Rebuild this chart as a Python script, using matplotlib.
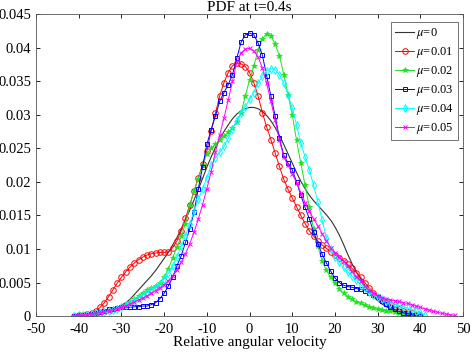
import numpy as np
import matplotlib
matplotlib.use("Agg")
import matplotlib.pyplot as plt
from matplotlib.ticker import FormatStrFormatter

# PDF of relative angular velocity at t=0.4s, one curve per friction coefficient
x_k = np.arange(-41, 41)
y_k = [0.0000, 0.0001, 0.0001, 0.0002, 0.0003, 0.0004, 0.0005, 0.0007, 0.0009, 0.0011,
       0.0013, 0.0016, 0.0020, 0.0025, 0.0032, 0.0039, 0.0046, 0.0053, 0.0060, 0.0068,
       0.0077, 0.0086, 0.0095, 0.0106, 0.0117, 0.0130, 0.0144, 0.0158, 0.0173, 0.0189,
       0.0205, 0.0222, 0.0237, 0.0251, 0.0264, 0.0275, 0.0285, 0.0294, 0.0301, 0.0306,
       0.0309, 0.0311, 0.0311, 0.0309, 0.0305, 0.0299, 0.0291, 0.0281, 0.0269, 0.0256,
       0.0242, 0.0228, 0.0214, 0.0201, 0.0190, 0.0180, 0.0172, 0.0165, 0.0158, 0.0151,
       0.0143, 0.0133, 0.0121, 0.0107, 0.0092, 0.0078, 0.0066, 0.0056, 0.0046, 0.0037,
       0.0029, 0.0023, 0.0018, 0.0014, 0.0011, 0.0008, 0.0006, 0.0004, 0.0003, 0.0002,
       0.0001, 0.0000]

x_r = np.arange(-41, 41)
y_r = [0.0000, 0.0001, 0.0002, 0.0003, 0.0005, 0.0008, 0.0013, 0.0020, 0.0029, 0.0039,
       0.0049, 0.0058, 0.0066, 0.0073, 0.0079, 0.0084, 0.0088, 0.0091, 0.0093, 0.0094,
       0.0095, 0.0095, 0.0096, 0.0102, 0.0112, 0.0127, 0.0146, 0.0166, 0.0186, 0.0206,
       0.0226, 0.0246, 0.0276, 0.0302, 0.0328, 0.0348, 0.0363, 0.0373, 0.0377, 0.0376,
       0.0372, 0.0363, 0.0348, 0.0328, 0.0303, 0.0282, 0.0263, 0.0243, 0.0223, 0.0204,
       0.0189, 0.0176, 0.0163, 0.0150, 0.0138, 0.0127, 0.0119, 0.0112, 0.0106, 0.0101,
       0.0096, 0.0091, 0.0087, 0.0082, 0.0077, 0.0071, 0.0065, 0.0058, 0.0050, 0.0042,
       0.0035, 0.0029, 0.0024, 0.0020, 0.0017, 0.0014, 0.0011, 0.0008, 0.0006, 0.0004,
       0.0002, 0.0001]

x_g = np.arange(-41, 41)
y_g = [0.0000, 0.0001, 0.0001, 0.0002, 0.0003, 0.0004, 0.0005, 0.0006, 0.0008, 0.0010,
       0.0012, 0.0014, 0.0017, 0.0021, 0.0025, 0.0030, 0.0035, 0.0039, 0.0042, 0.0045,
       0.0050, 0.0058, 0.0070, 0.0087, 0.0103, 0.0119, 0.0138, 0.0165, 0.0187, 0.0205,
       0.0225, 0.0242, 0.0250, 0.0256, 0.0262, 0.0268, 0.0274, 0.0280, 0.0290, 0.0302,
       0.0328, 0.0352, 0.0373, 0.0396, 0.0413, 0.0421, 0.0418, 0.0405, 0.0388, 0.0360,
       0.0330, 0.0300, 0.0262, 0.0228, 0.0195, 0.0162, 0.0130, 0.0104, 0.0082, 0.0068,
       0.0058, 0.0049, 0.0041, 0.0034, 0.0029, 0.0025, 0.0021, 0.0019, 0.0016, 0.0014,
       0.0012, 0.0010, 0.0009, 0.0008, 0.0007, 0.0006, 0.0004, 0.0003, 0.0002, 0.0002,
       0.0001, 0.0000]

x_b = np.arange(-41, 41)
y_b = [0.0000, 0.0001, 0.0001, 0.0002, 0.0003, 0.0004, 0.0006, 0.0008, 0.0010, 0.0011,
       0.0012, 0.0013, 0.0013, 0.0013, 0.0014, 0.0014, 0.0015, 0.0015, 0.0017, 0.0020,
       0.0026, 0.0034, 0.0045, 0.0058, 0.0075, 0.0090, 0.0110, 0.0130, 0.0155, 0.0190,
       0.0222, 0.0256, 0.0278, 0.0298, 0.0320, 0.0333, 0.0345, 0.0360, 0.0384, 0.0408,
       0.0419, 0.0422, 0.0419, 0.0407, 0.0389, 0.0358, 0.0328, 0.0298, 0.0265, 0.0240,
       0.0228, 0.0218, 0.0200, 0.0180, 0.0162, 0.0145, 0.0125, 0.0108, 0.0092, 0.0079,
       0.0067, 0.0057, 0.0050, 0.0046, 0.0044, 0.0043, 0.0041, 0.0040, 0.0038, 0.0035,
       0.0032, 0.0028, 0.0023, 0.0018, 0.0014, 0.0010, 0.0007, 0.0005, 0.0004, 0.0002,
       0.0001, 0.0000]

x_c = np.arange(-41, 42)
y_c = [0.0000, 0.0001, 0.0001, 0.0002, 0.0003, 0.0004, 0.0005, 0.0006, 0.0007, 0.0009,
       0.0011, 0.0013, 0.0016, 0.0019, 0.0023, 0.0027, 0.0031, 0.0035, 0.0039, 0.0043,
       0.0048, 0.0055, 0.0064, 0.0075, 0.0088, 0.0104, 0.0120, 0.0138, 0.0156, 0.0174,
       0.0190, 0.0206, 0.0225, 0.0236, 0.0244, 0.0253, 0.0265, 0.0279, 0.0292, 0.0303,
       0.0312, 0.0323, 0.0333, 0.0347, 0.0358, 0.0366, 0.0369, 0.0367, 0.0360, 0.0347,
       0.0330, 0.0310, 0.0285, 0.0258, 0.0237, 0.0218, 0.0195, 0.0170, 0.0143, 0.0117,
       0.0100, 0.0088, 0.0080, 0.0073, 0.0066, 0.0060, 0.0054, 0.0047, 0.0042, 0.0036,
       0.0032, 0.0028, 0.0025, 0.0022, 0.0020, 0.0018, 0.0016, 0.0014, 0.0012, 0.0010,
       0.0007, 0.0005, 0.0002]

x_m = np.arange(-41, 49)
y_m = [0.0000, 0.0001, 0.0001, 0.0002, 0.0003, 0.0004, 0.0005, 0.0006, 0.0008, 0.0009,
       0.0011, 0.0013, 0.0015, 0.0018, 0.0021, 0.0024, 0.0027, 0.0030, 0.0034, 0.0038,
       0.0042, 0.0047, 0.0053, 0.0060, 0.0069, 0.0080, 0.0093, 0.0108, 0.0125, 0.0145,
       0.0166, 0.0190, 0.0215, 0.0244, 0.0270, 0.0295, 0.0322, 0.0350, 0.0378, 0.0392,
       0.0398, 0.0399, 0.0395, 0.0386, 0.0370, 0.0347, 0.0320, 0.0292, 0.0262, 0.0237,
       0.0225, 0.0212, 0.0199, 0.0184, 0.0169, 0.0156, 0.0145, 0.0134, 0.0123, 0.0112,
       0.0102, 0.0094, 0.0088, 0.0082, 0.0075, 0.0067, 0.0059, 0.0052, 0.0045, 0.0039,
       0.0034, 0.0030, 0.0027, 0.0025, 0.0024, 0.0023, 0.0022, 0.0020, 0.0019, 0.0017,
       0.0015, 0.0013, 0.0011, 0.0009, 0.0007, 0.0006, 0.0004, 0.0003, 0.0002, 0.0001]

labels = [r"$\mu$=0", r"$\mu$=0.01", r"$\mu$=0.02", r"$\mu$=0.03", r"$\mu$=0.04", r"$\mu$=0.05"]

plt.rcParams["font.family"] = ["Liberation Serif", "DejaVu Serif"]
plt.rcParams["mathtext.fontset"] = "stix"
plt.rcParams["axes.unicode_minus"] = False

fig = plt.figure(figsize=(4.74, 3.54), dpi=100)
ax = fig.add_axes([0.076, 0.107, 0.901, 0.853])

ms = 4
ax.plot(x_k, y_k, color="#333333", lw=0.8, label=labels[0])
ax.plot(x_r, y_r, color="red", lw=0.7, marker="o", ms=ms, mfc="none", mew=0.7, label=labels[1])
ax.plot(x_g, y_g, color="#22e022", lw=0.7, marker="*", ms=ms, mew=0.5, label=labels[2])
ax.plot(x_b, y_b, color="blue", lw=0.7, marker="s", ms=ms - 0.5, mfc="none", mew=0.7, label=labels[3])
ax.plot(x_c, y_c, color="cyan", lw=0.7, marker="d", ms=ms, mfc="none", mew=0.7, label=labels[4])
ax.plot(x_m, y_m, color="magenta", lw=0.7, marker="x", ms=ms - 0.5, mew=0.7, label=labels[5])

ax.set_xlim(-50, 50)
ax.set_ylim(0, 0.045)
ax.set_xticks(np.arange(-50, 51, 10))
ax.set_yticks(np.arange(0, 0.0451, 0.005))
ax.yaxis.set_major_formatter(FormatStrFormatter("%g"))
ax.tick_params(direction="in", top=True, right=True, labelsize=10.5, length=3, width=0.6)
ax.tick_params(axis="x", pad=5)
for s in ax.spines.values():
    s.set_linewidth(0.6)
    s.set_color("#555555")

ax.set_title("PDF at t=0.4s", fontsize=11, pad=2)
ax.set_xlabel("Relative angular velocity", fontsize=11, labelpad=0)

leg = ax.legend(loc="upper right", bbox_to_anchor=(0.988, 0.973), fontsize=9,
                frameon=True, fancybox=False, handlelength=1.5, handletextpad=0.2,
                labelspacing=0.32, borderpad=0.3, borderaxespad=0)
leg.get_frame().set_edgecolor("#333333")
leg.get_frame().set_linewidth(0.6)

fig.savefig("out.png", dpi=100)
